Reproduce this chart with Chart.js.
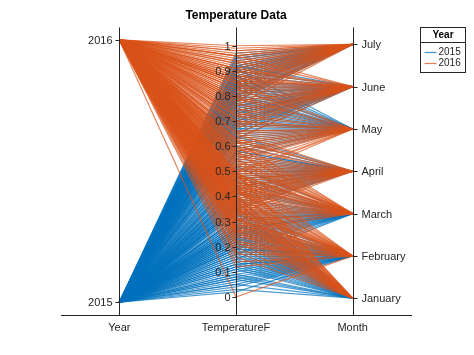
<!DOCTYPE html>
<html>
<head>
<meta charset="utf-8">
<script src="https://cdn.jsdelivr.net/npm/chart.js@4"></script>
<style>
html,body{margin:0;padding:0;background:#fff;}
#wrap{width:474px;height:355px;}
</style>
</head>
<body>
<div id="wrap"><canvas id="c" width="474" height="355"></canvas></div>
<script>
// ---- data ----
const chartTitle = 'Temperature Data';
const axisNames = ['Year', 'TemperatureF', 'Month'];
const yearLabels = ['2015', '2016'];
const monthLabels = ['January', 'February', 'March', 'April', 'May', 'June', 'July'];
const tempTicks = [0, 0.1, 0.2, 0.3, 0.4, 0.5, 0.6, 0.7, 0.8, 0.9, 1];
const legendTitle = 'Year';

// normalized TemperatureF per observation, grouped by year and month
const jan2015 = [0.21,0.14,0.30,0.09,0.25,0.36,0.18,0.05,0.27,0.33,0.12,0.22,0.40,0.16,0.29,0.08,0.24,0.31,0.19,0.11,0.35,0.26,0.15,0.38,0.03,0.20,0.28,0.13,0.34,0.07,0.23,0.17];
const feb2015 = [0.13,0.07,0.19,0.25,0.10,0.16,0.04,0.22,0.29,0.12,0.18,0.09,0.27,0.14,0.33,0.06,0.20,0.24,0.11,0.17,0.31,0.15,0.21,0.28,0.02,0.26,0.08,0.19,0.35,0.13,0.23,0.05];
const mar2015 = [0.24,0.31,0.19,0.38,0.27,0.44,0.22,0.35,0.29,0.41,0.17,0.33,0.48,0.26,0.37,0.21,0.30,0.43,0.28,0.34,0.25,0.39,0.46,0.32,0.20,0.36,0.15,0.42,0.27,0.52,0.23,0.31];
const apr2015 = [0.41,0.47,0.38,0.53,0.45,0.58,0.36,0.50,0.43,0.62,0.48,0.40,0.55,0.44,0.51,0.39,0.57,0.46,0.60,0.42,0.49,0.54,0.37,0.52,0.44,0.35,0.56,0.47,0.64,0.41,0.50,0.58];
const may2015 = [0.58,0.66,0.72,0.61,0.78,0.55,0.69,0.84,0.63,0.75,0.70,0.59,0.81,0.67,0.74,0.88,0.62,0.71,0.77,0.65,0.83,0.68,0.57,0.79,0.60,0.73,0.86,0.64,0.76,0.91,0.69,0.80];
const jun2015 = [0.70,0.76,0.66,0.81,0.73,0.86,0.69,0.78,0.74,0.63,0.83,0.71,0.79,0.88,0.75,0.68,0.82,0.77,0.72,0.85,0.80,0.67,0.74,0.90,0.73,0.84,0.65,0.78,0.92,0.70,0.81,0.76];
const jul2015 = [0.82,0.88,0.79,0.93,0.85,0.90,0.80,0.95,0.86,0.83,0.91,0.87,0.97,0.84,0.89,0.78,0.92,0.86,0.94,0.81,0.88,0.90,0.85,0.96,0.84,0.92,0.87,0.80,0.95,0.89,0.83,0.91];

const jan2016 = [0.28,0.35,0.22,0.41,0.31,0.18,0.38,0.26,0.45,0.33,0.24,0.30,0.49,0.36,0.20,0.39,0.27,0.43,0.32,0.25,0.37,0.29,0.47,0.34,0.23,0.40,0.32,0.50,0.27,0.44,0.16,0.36];
const feb2016 = [0.31,0.22,0.40,0.00,0.27,0.35,0.18,0.44,0.29,0.38,0.14,0.33,0.25,0.48,0.36,0.21,0.42,0.30,0.26,0.39,0.12,0.34,0.46,0.28,0.24,0.37,0.17,0.43,0.31,0.50,0.20,0.35];
const mar2016 = [0.37,0.45,0.30,0.52,0.41,0.58,0.34,0.48,0.26,0.43,0.55,0.39,0.62,0.33,0.47,0.40,0.51,0.36,0.44,0.57,0.31,0.49,0.42,0.54,0.28,0.46,0.38,0.60,0.44,0.35,0.53,0.49];
const apr2016 = [0.42,0.36,0.50,0.45,0.57,0.33,0.48,0.62,0.40,0.53,0.38,0.46,0.59,0.44,0.35,0.51,0.65,0.41,0.55,0.47,0.39,0.52,0.43,0.60,0.49,0.37,0.56,0.44,0.63,0.41,0.54,0.47];
const may2016 = [0.55,0.63,0.49,0.70,0.58,0.66,0.52,0.75,0.61,0.57,0.80,0.64,0.47,0.68,0.59,0.73,0.54,0.62,0.77,0.56,0.69,0.60,0.83,0.65,0.58,0.72,0.50,0.66,0.79,0.61,0.85,0.70];
const jun2016 = [0.70,0.78,0.65,0.83,0.74,0.88,0.68,0.80,0.76,0.91,0.72,0.85,0.63,0.79,0.73,0.87,0.69,0.82,0.94,0.75,0.81,0.71,0.86,0.77,0.74,0.84,0.67,0.90,0.78,0.72,0.86,0.96];
const jul2016 = [0.84,0.91,0.78,0.96,0.87,0.81,0.93,0.99,0.85,0.89,0.76,0.92,1.00,0.83,0.88,0.95,0.80,0.90,0.86,0.97,0.82,0.94,0.89,0.98,0.87,0.93,0.79,0.98,0.85,0.91,0.96,0.83];

const temps2015 = [jan2015, feb2015, mar2015, apr2015, may2015, jun2015, jul2015];
const temps2016 = [jan2016, feb2016, mar2016, apr2016, may2016, jun2016, jul2016];

// ---- styling / normalization of categorical coordinates ----
const yearColors = ['rgba(0,114,189,0.7)', 'rgba(217,83,25,0.7)'];
const yearLegendColors = ['rgba(0,114,189,0.75)', 'rgba(217,83,25,0.75)'];
const yearNorm = [-0.021, 1.023];            // 2015, 2016 on the common normalized scale
const monthNorm = i => -0.005 + i * (1.0105 / 6);
const inkColor = '#262626';
const FONT = '"Liberation Sans", Arial, Helvetica, sans-serif';

const datasets = [];
[temps2015, temps2016].forEach((byMonth, yi) => {
  byMonth.forEach((vals, mi) => {
    vals.forEach(t => {
      datasets.push({
        data: [yearNorm[yi], t, monthNorm(mi)],
        borderColor: yearColors[yi],
        borderWidth: 1.2,
        pointRadius: 0,
        fill: false,
        tension: 0
      });
    });
  });
});
const N = datasets.length;
datasets.forEach((d, i) => { d.order = N - i; }); // later rows draw on top

const axesPlugin = {
  id: 'parallelAxes',
  afterDatasetsDraw(chart) {
    const ctx = chart.ctx, xs = chart.scales.x, ys = chart.scales.y, ca = chart.chartArea;
    ctx.save();
    ctx.strokeStyle = inkColor;
    ctx.fillStyle = inkColor;
    ctx.lineWidth = 1;
    ctx.font = '11px ' + FONT;
    ctx.textBaseline = 'middle';
    const px = [0, 1, 2].map(i => Math.round(xs.getPixelForValue(i)) + 0.5);
    px.forEach(p => {
      ctx.beginPath(); ctx.moveTo(p, ca.top); ctx.lineTo(p, ca.bottom); ctx.stroke();
    });
    // Year axis
    ctx.textAlign = 'right';
    yearLabels.forEach((lab, i) => {
      const py = Math.round(ys.getPixelForValue(yearNorm[i])) + 0.5;
      ctx.beginPath(); ctx.moveTo(px[0] - 4, py); ctx.lineTo(px[0], py); ctx.stroke();
      ctx.fillText(lab, px[0] - 7, py);
    });
    // TemperatureF axis
    tempTicks.forEach(v => {
      const py = Math.round(ys.getPixelForValue(v)) + 0.5;
      ctx.beginPath(); ctx.moveTo(px[1] - 4, py); ctx.lineTo(px[1], py); ctx.stroke();
      ctx.fillText(String(v), px[1] - 6, py);
    });
    // Month axis
    ctx.textAlign = 'left';
    monthLabels.forEach((lab, i) => {
      const py = Math.round(ys.getPixelForValue(monthNorm(i))) + 0.5;
      ctx.beginPath(); ctx.moveTo(px[2], py); ctx.lineTo(px[2] + 4, py); ctx.stroke();
      ctx.fillText(lab, px[2] + 8, py);
    });
    ctx.restore();
  },
  afterDraw(chart) {
    const ctx = chart.ctx, ca = chart.chartArea;
    const bx = Math.round(ca.right) + 9.5, by = Math.round(ca.top) + 0.5, bw = 45, bh = 45;
    ctx.save();
    ctx.fillStyle = '#fff';
    ctx.fillRect(bx, by, bw, bh);
    ctx.strokeStyle = inkColor;
    ctx.lineWidth = 1;
    ctx.strokeRect(bx, by, bw, bh);
    ctx.beginPath(); ctx.moveTo(bx, by + 15); ctx.lineTo(bx + bw, by + 15); ctx.stroke();
    ctx.fillStyle = '#000';
    ctx.font = 'bold 10px ' + FONT;
    ctx.textAlign = 'center';
    ctx.textBaseline = 'middle';
    ctx.fillText(legendTitle, bx + bw / 2, by + 8);
    ctx.font = '10px ' + FONT;
    ctx.textAlign = 'left';
    yearLabels.forEach((lab, i) => {
      const ly = by + 25 + i * 11;
      ctx.strokeStyle = yearLegendColors[i];
      ctx.lineWidth = 1.2;
      ctx.beginPath(); ctx.moveTo(bx + 4, ly); ctx.lineTo(bx + 16, ly); ctx.stroke();
      ctx.fillStyle = inkColor;
      ctx.fillText(lab, bx + 18, ly);
    });
    ctx.restore();
  }
};

new Chart(document.getElementById('c'), {
  type: 'line',
  data: { labels: axisNames, datasets },
  plugins: [axesPlugin],
  options: {
    responsive: false,
    animation: false,
    events: [],
    layout: { padding: { left: 61, right: 63, top: 0, bottom: 14 } },
    plugins: {
      legend: { display: false },
      tooltip: { enabled: false },
      title: {
        display: true,
        text: chartTitle,
        color: '#000',
        font: { family: FONT, size: 12, weight: 'bold' },
        padding: { top: 8, bottom: 5 }
      }
    },
    scales: {
      x: {
        type: 'category',
        offset: true,
        grid: { display: false, drawTicks: false },
        border: { display: true, color: inkColor, width: 1 },
        ticks: { color: inkColor, font: { family: FONT, size: 11 }, padding: 6, maxRotation: 0, autoSkip: false }
      },
      y: {
        type: 'linear',
        display: false,
        min: -0.075,
        max: 1.073
      }
    }
  }
});
</script>
</body>
</html>
